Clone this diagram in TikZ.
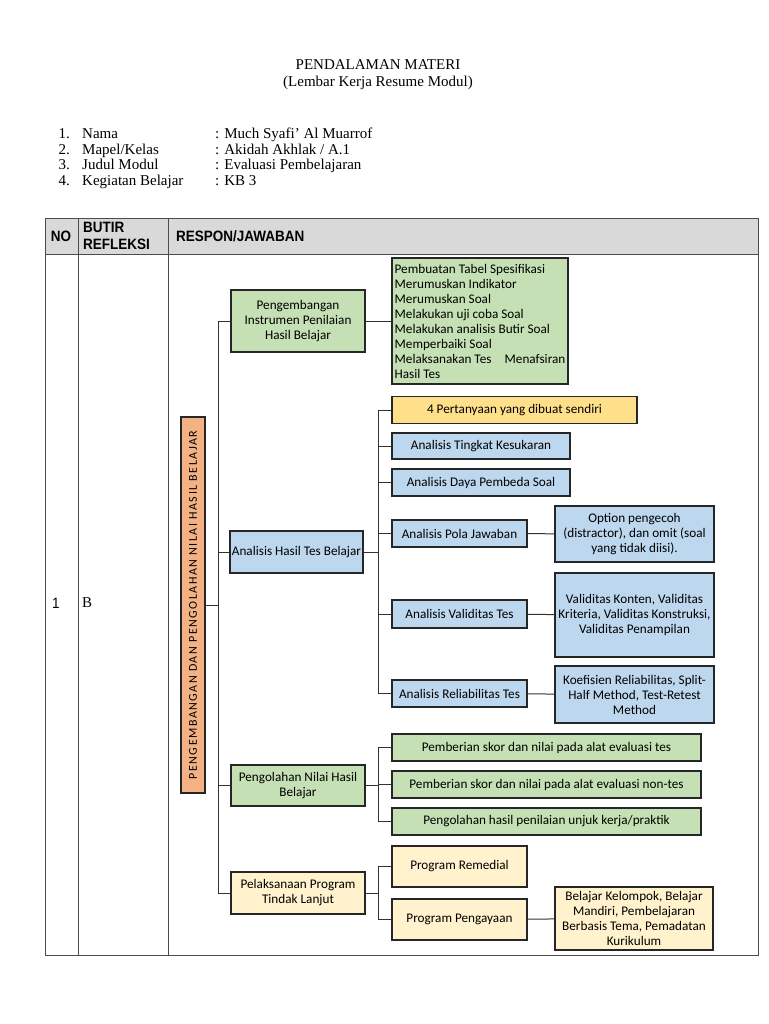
\documentclass[tikz,border=0pt]{standalone}
\usepackage{fontspec}
\setmainfont{Liberation Serif}
\newfontfamily\boxfont{Carlito}
\newfontfamily\headfont[FakeStretch=0.9]{Liberation Sans}
\usetikzlibrary{positioning}
\definecolor{boxgreen}{HTML}{C5E0B4}
\definecolor{boxblue}{HTML}{BDD7EE}
\definecolor{boxyellow}{HTML}{FFE08A}
\definecolor{boxcream}{HTML}{FFF2CC}
\definecolor{boxorange}{HTML}{F4B183}
\definecolor{headgray}{HTML}{D9D9D9}
\tikzset{
  box/.style={draw=black!85, line width=1.4pt, align=center, inner sep=1pt,
    font=\boxfont\fontsize{13.2}{15}\selectfont},
  green/.style={box, fill=boxgreen},
  blue/.style={box, fill=boxblue},
  yellow/.style={box, fill=boxyellow},
  cream/.style={box, fill=boxcream},
  link/.style={draw=black!80, line width=1pt},
  serif/.style={font=\fontsize{15}{17}\selectfont, inner sep=0pt},
  head/.style={font=\headfont\bfseries\fontsize{15}{17}\selectfont, inner sep=0pt},
  grid/.style={draw=black!70, line width=0.8pt}
}
\begin{document}
\begin{tikzpicture}[x=1pt,y=-1pt]
\useasboundingbox[fill=white] (0,0) rectangle (768,1024);
% heading
\node[serif] (title) at (378,65) {PENDALAMAN MATERI};
\node[serif] (subtitle) at (378,83) {(Lembar Kerja Resume Modul)};
\foreach \n/\key/\val [count=\i] in {1/Nama/{Much Syafi' Al Muarrof},
    2/Mapel\slash Kelas/{Akidah Akhlak / A.1},
    3/Judul Modul/{Evaluasi Pembelajaran},
    4/Kegiatan Belajar/{KB 3}}{
  \node[serif, anchor=base east] (num\i) at (70,123.5+15.5*\i) {\n.};
  \node[serif, anchor=base west] (key\i) at (82,123.5+15.5*\i) {\key};
  \node[serif, anchor=base west] (val\i) at (215,123.5+15.5*\i) {: \val};
}
% table
\fill[headgray] (45,218) rectangle (758,254);
\draw[grid] (45,218) rectangle (758,955);
\draw[grid] (45,254) -- (758,254);
\draw[grid] (78,218) -- (78,955);
\draw[grid] (168,218) -- (168,955);
\node[head] (no) at (61,236) {NO};
\node[head, anchor=west, align=left] (butir) at (83,236) {BUTIR\\REFLEKSI};
\node[head, anchor=west] (respon) at (176,236) {RESPON/JAWABAN};
\node[font=\headfont\fontsize{15}{17}\selectfont, inner sep=0pt] (rownum) at (56,603) {1};
\node[serif, anchor=west] (rowb) at (82,603) {B};

% main topic
\node[box, fill=boxorange, rotate=90, minimum width=376, minimum height=24,
  font=\boxfont\fontsize{12}{14}\selectfont\addfontfeature{LetterSpace=12.5}] (topic) at (193,605)
  {PENGEMBANGAN DAN PENGOLAHAN NILAI HASIL BELAJAR};
\coordinate (spine) at (218,0);
\coordinate (sub) at (378,0);

% first level
\node[green, minimum width=134, minimum height=62] (A) at (298,321)
  {Pengembangan\\Instrumen Penilaian\\Hasil Belajar};
\node[blue, minimum width=133, minimum height=42] (B) at (296.5,552)
  {Analisis Hasil Tes Belajar};
\node[green, minimum width=134, minimum height=41] (C) at (298,785.5)
  {Pengolahan Nilai Hasil\\Belajar};
\node[cream, minimum width=134, minimum height=42] (D) at (298,893)
  {Pelaksanaan Program\\Tindak Lanjut};

% second level
\node[green, minimum width=176, minimum height=126, align=left] (A1) at (480,321)
  {Pembuatan Tabel Spesifikasi\\Merumuskan Indikator\\Merumuskan Soal\\Melakukan uji coba Soal\\
   Melakukan analisis Butir Soal\\Memperbaiki Soal\\Melaksanakan Tes\quad Menafsiran\\Hasil Tes};
\node[yellow, minimum width=245, minimum height=27] (B1) at (514.5,410) {4 Pertanyaan yang dibuat sendiri};
\node[blue, minimum width=178, minimum height=26] (B2) at (481,446) {Analisis Tingkat Kesukaran};
\node[blue, minimum width=178, minimum height=27] (B3) at (481,482.5) {Analisis Daya Pembeda Soal};
\node[blue, minimum width=135, minimum height=27] (B4) at (459.5,533.5) {Analisis Pola Jawaban};
\node[blue, minimum width=135, minimum height=28] (B5) at (459.5,614) {Analisis Validitas Tes};
\node[blue, minimum width=135, minimum height=27] (B6) at (459.5,693.5) {Analisis Reliabilitas Tes};
\node[green, minimum width=309, minimum height=27] (C1) at (546.5,747.5) {Pemberian skor dan nilai pada alat evaluasi tes};
\node[green, minimum width=309, minimum height=27] (C2) at (546.5,784.5) {Pemberian skor dan nilai pada alat evaluasi non-tes};
\node[green, minimum width=309, minimum height=27] (C3) at (546.5,821.5) {Pengolahan hasil penilaian unjuk kerja/praktik};
\node[cream, minimum width=135, minimum height=41] (D1) at (459.5,866.5) {Program Remedial};
\node[cream, minimum width=135, minimum height=41] (D2) at (459.5,919.5) {Program Pengayaan};

% third level
\node[blue, minimum width=159, minimum height=56] (B4a) at (634.5,534)
  {Option pengecoh\\(distractor), dan omit (soal\\yang tidak diisi).};
\node[blue, minimum width=159, minimum height=84] (B5a) at (634.5,615)
  {Validitas Konten, Validitas\\Kriteria, Validitas Konstruksi,\\Validitas Penampilan};
\node[blue, minimum width=159, minimum height=57] (B6a) at (634.5,694.5)
  {Koefisien Reliabilitas, Split-\\Half Method, Test-Retest\\Method};
\node[cream, minimum width=158, minimum height=63] (D2a) at (634,918.5)
  {Belajar Kelompok, Belajar\\Mandiri, Pembelajaran\\Berbasis Tema, Pemadatan\\Kurikulum};

% connectors
\draw[link] (A.west) -- (A.west -| spine) -- (D.west -| spine) -- (D.west);
\draw[link] (B.west) -- (B.west -| spine);
\draw[link] (C.west) -- (C.west -| spine);
\draw[link] (topic.south) -- (topic.south -| spine);
\draw[link] (A) -- (A1);
\draw[link] (B.east) -- (B.east -| sub);
\draw[link] (B1.west -| sub) -- (B6.west -| sub);
\foreach \k in {B1,B2,B3,B4,B5,B6}
  \draw[link] (\k.west) -- (\k.west -| sub);
\draw[link] (C.east) -- (C.east -| sub);
\draw[link] (C1.west -| sub) -- (C3.west -| sub);
\foreach \k in {C1,C2,C3}
  \draw[link] (\k.west) -- (\k.west -| sub);
\draw[link] (D.east) -- (D.east -| sub);
\draw[link] (D1.west -| sub) -- (D2.west -| sub);
\foreach \k in {D1,D2}
  \draw[link] (\k.west) -- (\k.west -| sub);
\draw[link] (B4) -- (B4a);
\draw[link] (B5) -- (B5a);
\draw[link] (B6) -- (B6a);
\draw[link] (D2) -- (D2a);
\end{tikzpicture}
\end{document}
